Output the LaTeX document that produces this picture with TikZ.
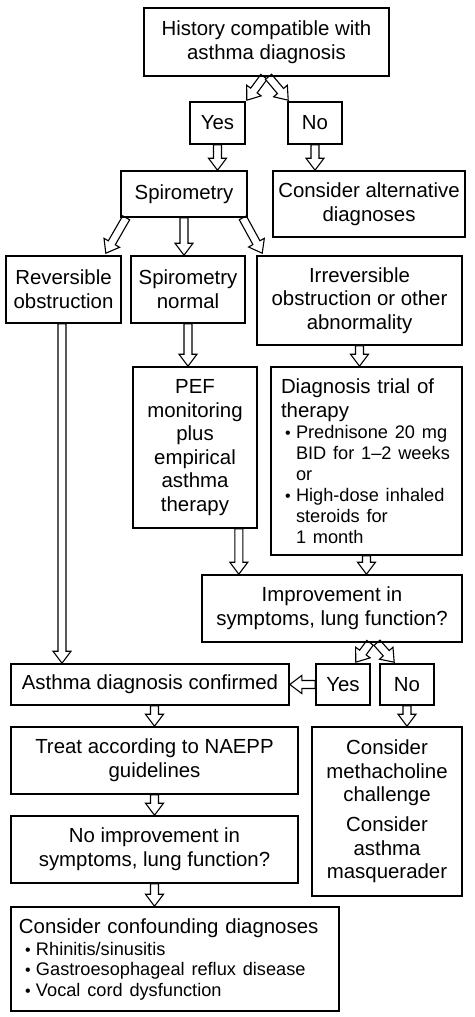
\documentclass[tikz,border=0pt]{standalone}
\usepackage{fontspec}
\setmainfont{Liberation Sans}
\usetikzlibrary{calc,backgrounds}
\tikzset{
  box/.style={draw, line width=1.6pt, inner sep=2pt, align=center,
    font=\fontsize{20.4}{23.6}\selectfont},
  leftbox/.style={box, align=left},
  arrowline/.style={draw=black, fill=white, line width=1.1pt, line join=miter},
}
\newcommand\blockarrow[2]{%
  \coordinate (ba) at (#1);
  \coordinate (bb) at (#2);
  \coordinate (bh) at ($(bb)!12pt!(ba)$);
  \draw[arrowline] ($(ba)!4pt!90:(bb)$) -- ($(bh)!4pt!90:(bb)$) -- ($(bh)!9pt!90:(bb)$)
    -- (bb) -- ($(bh)!9pt!-90:(bb)$) -- ($(bh)!4pt!-90:(bb)$) -- ($(ba)!4pt!-90:(bb)$) -- cycle;}
\newcommand\bul{\makebox[11pt][l]{\fontsize{16}{16}\selectfont •}}
\begin{document}
\begin{tikzpicture}[x=1pt,y=-1pt]
\useasboundingbox (0,0) rectangle (474,1017);

\node[box, minimum width=245pt, minimum height=68pt] (hist) at (266.5,42) {History compatible with\\asthma diagnosis};
\node[box, minimum width=55pt, minimum height=42pt] (yes) at (217.5,123) {Yes};
\node[box, minimum width=54pt, minimum height=42pt] (no) at (315,123) {No};
\node[box, minimum width=126pt, minimum height=46pt] (spiro) at (184,194) {Spirometry};
\node[box, minimum width=192pt, minimum height=66pt] (alt) at (369,204) {Consider alternative\\diagnoses};
\node[box, minimum width=115pt, minimum height=67pt] (rev) at (63.5,289.5) {Reversible\\obstruction};
\node[box, minimum width=114pt, minimum height=67pt] (norm) at (188,289.5) {Spirometry\\normal};
\node[box, minimum width=205pt, minimum height=89pt] (irr) at (359.5,300.5) {Irreversible\\obstruction or other\\abnormality};
\node[box, minimum width=124pt, minimum height=161pt] (pef) at (195,447.5) {PEF\\monitoring\\plus\\empirical\\asthma\\therapy};
\node[leftbox, text width=171pt, inner xsep=10pt, minimum height=188pt] (trial) at (366.5,461)
  {\setlength\parindent{0pt}Diagnosis trial of\par therapy\par
   \fontsize{18.2}{21}\selectfont
   \hspace*{4pt}\bul Prednisone 20 mg\par
   \hspace*{15pt}BID for 1–2 weeks\par
   \hspace*{15pt}or\par
   \hspace*{4pt}\bul High-dose inhaled\par
   \hspace*{15pt}steroids for\par
   \hspace*{15pt}1 month\par};
\node[box, minimum width=260pt, minimum height=67pt] (impr) at (332,608.5) {Improvement in\\symptoms, lung function?};
\node[box, minimum width=278pt, minimum height=41pt] (conf) at (150,684.5) {Asthma diagnosis confirmed};
\node[box, minimum width=54pt, minimum height=41pt] (yes2) at (343,684.5) {Yes};
\node[box, minimum width=54pt, minimum height=41pt] (no2) at (407,684.5) {No};
\node[box, minimum width=287pt, minimum height=67pt] (treat) at (154.5,760.5) {Treat according to NAEPP\\guidelines};
\node[box, minimum width=150pt, minimum height=169pt] (meth) at (387,811.5) {Consider\\methacholine\\challenge\\[6pt]Consider\\asthma\\masquerader};
\node[box, minimum width=287pt, minimum height=67pt] (noimp) at (154.5,849.5) {No improvement in\\symptoms, lung function?};
\node[leftbox, text width=312pt, inner xsep=8pt, minimum height=104pt] (confd) at (175,959)
  {\setlength\parindent{0pt}Consider confounding diagnoses\par
   \fontsize{18.2}{20.5}\selectfont
   \vspace*{1.5pt}
   \hspace*{6pt}\bul Rhinitis/sinusitis\par
   \hspace*{6pt}\bul Gastroesophageal reflux disease\par
   \hspace*{6pt}\bul Vocal cord dysfunction\par};

\begin{pgfonlayer}{background}
\fill[white] (0,0) rectangle (474,1017);
\blockarrow{$(hist.south)+(-2.5,0)$}{$(yes.north east)+(1,-1)$}
\blockarrow{$(hist.south)+(2,0)$}{$(no.north west)+(1,-1)$}
\blockarrow{yes.south}{yes.south |- spiro.north}
\blockarrow{no.south}{no.south |- alt.north}
\blockarrow{$(spiro.south west)+(6,0)$}{$(rev.north east)+(-16,-2)$}
\blockarrow{spiro.south}{spiro.south |- norm.north}
\blockarrow{$(spiro.south east)+(-5,0)$}{$(irr.north west)+(6,-2)$}
\blockarrow{$(rev.south)+(-1.5,0)$}{$(rev.south |- conf.north)+(-1.5,0)$}
\blockarrow{norm.south}{norm.south |- pef.north}
\blockarrow{irr.south}{irr.south |- trial.north}
\blockarrow{$(pef.south east)+(-19,0)$}{$(pef.south east |- impr.north)+(-19,0)$}
\blockarrow{trial.south}{trial.south |- impr.north}
\blockarrow{$(impr.south)+(38,0)$}{$(yes2.north east)+(-15,-1)$}
\blockarrow{$(impr.south)+(45,0)$}{$(no2.north west)+(15,-1)$}
\blockarrow{yes2.west}{yes2.west -| conf.east}
\blockarrow{no2.south}{no2.south |- meth.north}
\blockarrow{treat.north |- conf.south}{treat.north}
\blockarrow{treat.south}{noimp.north}
\blockarrow{noimp.south}{noimp.south |- confd.north}
\end{pgfonlayer}
\end{tikzpicture}
\end{document}
